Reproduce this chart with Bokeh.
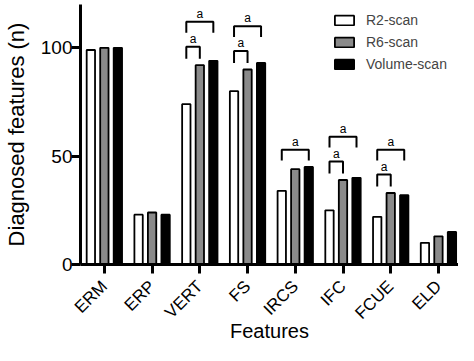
import numpy as np
from bokeh.plotting import figure
from bokeh.models import FixedTicker, ColumnDataSource, Legend, LegendItem
from bokeh.core.properties import value
from bokeh.embed import file_html
from bokeh.resources import INLINE
import math

# ---- data ----
features = ["ERM", "ERP", "VERT", "FS", "IRCS", "IFC", "FCUE", "ELD"]
r2_scan = [99, 23, 74, 80, 34, 25, 22, 10]
r6_scan = [100, 24, 92, 90, 44, 39, 33, 13]
volume_scan = [100, 23, 94, 93, 45, 40, 32, 15]
series_names = ["R2-scan", "R6-scan", "Volume-scan"]
y_ticks = [0, 50, 100]
# significance brackets "a"
small_brackets = ["VERT", "FS", "IFC", "FCUE"]          # R2 vs R6
large_brackets = ["VERT", "FS", "IRCS", "IFC", "FCUE"]  # R2 vs Volume

FONT = "Liberation Sans"
fills = ["white", "#8a8a8a", "black"]
offsets = [-0.283, 0.0, 0.283]
bar_w = 0.175

p = figure(width=458, height=345, x_range=(0, 7.92), y_range=(0, 120),
           output_backend="svg", toolbar_location=None,
           min_border_left=80, min_border_right=0, min_border_top=4,
           min_border_bottom=81)
p.outline_line_color = None
p.xgrid.visible = False
p.ygrid.visible = False

centers = np.arange(len(features)) + 0.5
items = []
for vals, name, fc, off in zip([r2_scan, r6_scan, volume_scan], series_names, fills, offsets):
    src = ColumnDataSource(dict(x=centers + off, top=vals))
    r = p.vbar(x="x", top="top", width=bar_w, bottom=0, source=src,
               fill_color=fc, line_color="black", line_width=1.8)
    items.append(LegendItem(label=name, renderers=[r]))

# brackets
bx, by, tx, ty = [], [], [], []
for f in features:
    i = features.index(f)
    xw, xg, xb = centers[i] + offsets[0], centers[i] + offsets[1], centers[i] + offsets[2]
    small_top = None
    if f in small_brackets:
        base = r6_scan[i] + 3
        small_top = base + 5.5
        bx.append([xw, xw, xg, xg]); by.append([base, small_top, small_top, base])
        tx.append((xw + xg) / 2); ty.append(small_top)
    if f in large_brackets:
        base = (small_top + 6.5) if small_top is not None else max(r6_scan[i], volume_scan[i]) + 3
        top = base + 5
        bx.append([xw, xw, xb, xb]); by.append([base, top, top, base])
        tx.append((xw + xb) / 2); ty.append(top)
p.multi_line(xs=bx, ys=by, line_color="black", line_width=2)
p.text(x=tx, y=ty, text=["a"] * len(tx), text_align="center", text_baseline="bottom",
       y_offset=-1, text_font=value(FONT), text_font_size="12px", text_color="black")

legend = Legend(items=items, location=(252, 190), margin=0, padding=0,
                glyph_width=24, glyph_height=12, label_standoff=10,
                label_text_font=FONT, label_text_font_size="14px",
                label_height=20, spacing=2,
                border_line_alpha=0, background_fill_alpha=0)
p.add_layout(legend)

# axes
for ax in (p.xaxis[0], p.yaxis[0]):
    ax.axis_line_width = 3
    ax.major_tick_line_width = 3
    ax.major_tick_out = 9
    ax.major_tick_in = 0
    ax.minor_tick_line_color = None
    ax.major_label_text_font = FONT
    ax.axis_label_text_font = FONT
    ax.axis_label_text_font_style = "normal"
    ax.major_label_text_color = "black"
    ax.axis_label_text_color = "black"

p.yaxis.ticker = FixedTicker(ticks=y_ticks)
p.yaxis.major_label_text_font_size = "19px"
p.yaxis.major_label_standoff = -1
p.yaxis.axis_label = "Diagnosed features (n)"
p.yaxis.axis_label_text_font_size = "22px"
p.yaxis.axis_label_standoff = 9

p.xaxis.ticker = FixedTicker(ticks=list(centers))
p.xaxis.major_label_overrides = {float(c): f for c, f in zip(centers, features)}
p.xaxis.major_label_orientation = math.pi / 4
p.xaxis.major_label_text_font_size = "17px"
p.xaxis.major_label_standoff = 10
p.xaxis.axis_label = "Features"
p.xaxis.axis_label_text_font_size = "20px"
p.xaxis.axis_label_standoff = -13

open("out.html", "w").write(file_html(p, INLINE))
